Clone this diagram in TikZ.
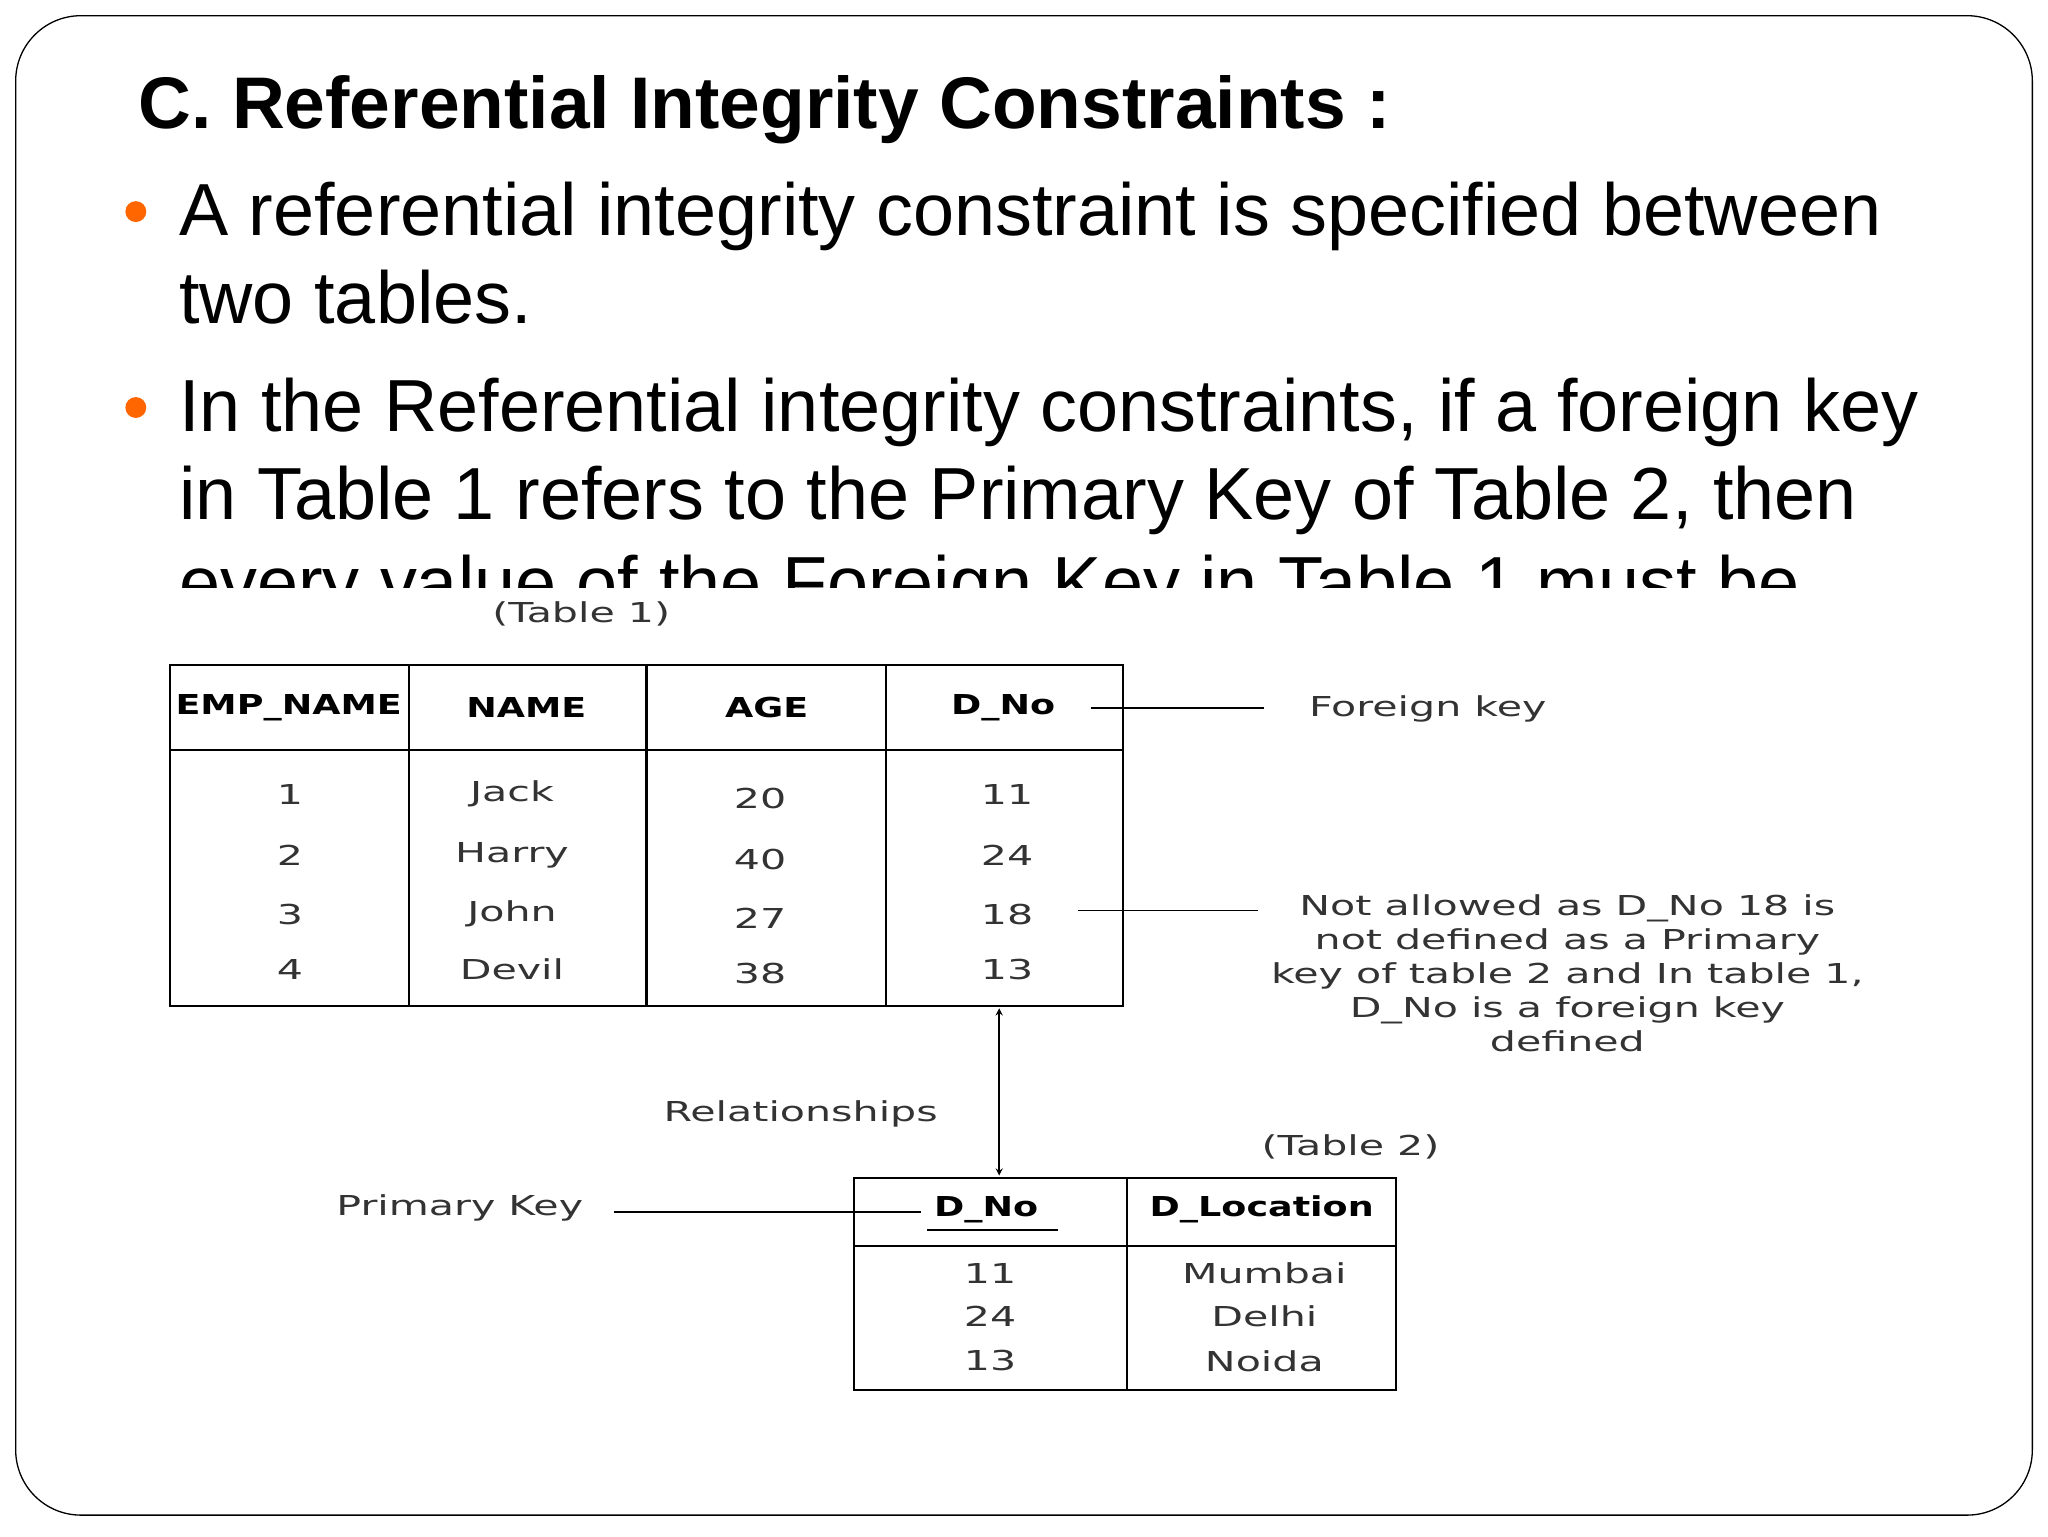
\documentclass[tikz,border=0pt]{standalone}
\usepackage{fontspec}
\setmainfont{Liberation Sans}
\newfontfamily\tabfont[FakeStretch=1.5]{DejaVu Sans}
\newfontfamily\tabbold[FakeStretch=1.33]{DejaVu Sans Bold}
\begin{document}
\begin{tikzpicture}[x=1pt,y=-1pt,
  body/.style={anchor=base west,inner sep=0pt,font=\fontsize{56.5}{60}\selectfont},
  tt/.style={inner sep=0pt,font=\tabfont\fontsize{21}{26}\selectfont,text=black!80},
  ttb/.style={inner sep=0pt,font=\tabbold\fontsize{21}{26}\selectfont},
  ln/.style={line width=1.6pt},
  thin/.style={line width=1pt}]
\useasboundingbox (0,0) rectangle (1568,1176);
\fill[white] (0,0) rectangle (1568,1176);
\draw[line width=1pt,rounded corners=50pt] (12,12) rectangle (1556,1160);
\node[anchor=base west,inner sep=0pt,font=\bfseries\fontsize{56}{60}\selectfont] (title) at (106,98) {C. Referential Integrity Constraints :};
\fill[orange!80!red] (104,162) circle (8) (104,312) circle (8);
\node[body] (b1a) at (137,180) {A referential integrity constraint is specified between};
\node[body] (b1b) at (137,248) {two tables.};
\node[body] (b2a) at (137,330) {In the Referential integrity constraints, if a foreign key};
\node[body] (b2b) at (137,398) {in Table 1 refers to the Primary Key of Table 2, then};
\begin{scope}
\clip (0,0) rectangle (1568,450);
\node[body] (b2c) at (137,466) {every value of the Foreign Key in Table 1 must be};
\end{scope}
% table 1
\draw[ln] (130,509) rectangle (860,770);
\draw[ln] (130,574) -- (860,574);
\foreach \x in {313,495,678} \draw[ln] (\x,509) -- (\x,770);
\node[tt] (t1) at (445,470) {(Table 1)};
\node[ttb] (h1) at (221,542) {EMP\_NAME};
\node[ttb] (h2) at (403,542) {NAME};
\node[ttb] (h3) at (587,542) {AGE};
\node[ttb] (h4) at (768,542) {D\_No};
\foreach \a/\b/\c/\d/\y in {1/Jack/20/11/608, 2/Harry/40/24/655, 3/John/27/18/700, 4/Devil/38/13/742}{
  \node[tt] at (222,\y) {\a};
  \node[tt] at (392,\y) {\b};
  \node[tt] at (582,\y+3) {\c};
  \node[tt] at (771,\y) {\d};}
\coordinate (fk1) at (835,542); \coordinate (fk2) at (968,542);
\draw[thin] (fk1) -- (fk2);
\node[tt,anchor=west] (fk) at (1002,543) {Foreign key};
\coordinate (na1) at (825,697); \coordinate (na2) at (963,697);
\draw[thin] (na1) -- (na2);
\node[tt,align=center] (na) at (1200,745) {Not allowed as D\_No 18 is\\not defined as a Primary\\key of table 2 and In table 1,\\D\_No is a foreign key\\defined};
% arrow
\coordinate (a1) at (765,772); \coordinate (a2) at (765,900);
\draw[line width=1.4pt,<->,>=stealth] (a1) -- (a2);
\node[tt] (rel) at (613,853) {Relationships};
% table 2
\node[tt] (t2) at (1034,878) {(Table 2)};
\draw[ln] (654,902) rectangle (1069,1064);
\draw[ln] (654,954) -- (1069,954);
\draw[ln] (863,902) -- (863,1064);
\node[ttb] (h5) at (755,926) {D\_No};
\draw[line width=1.5pt] (710,942) -- (810,942);
\node[ttb] (h6) at (966,926) {D\_Location};
\foreach \d/\l/\y in {11/Mumbai/975, 24/Delhi/1008, 13/Noida/1042}{
  \node[tt] at (758,\y) {\d};
  \node[tt] at (968,\y) {\l};}
\node[tt] (pk) at (352,925) {Primary Key};
\coordinate (pk1) at (470,928); \coordinate (pk2) at (705,928);
\draw[thin] (pk1) -- (pk2);
\end{tikzpicture}
\end{document}
